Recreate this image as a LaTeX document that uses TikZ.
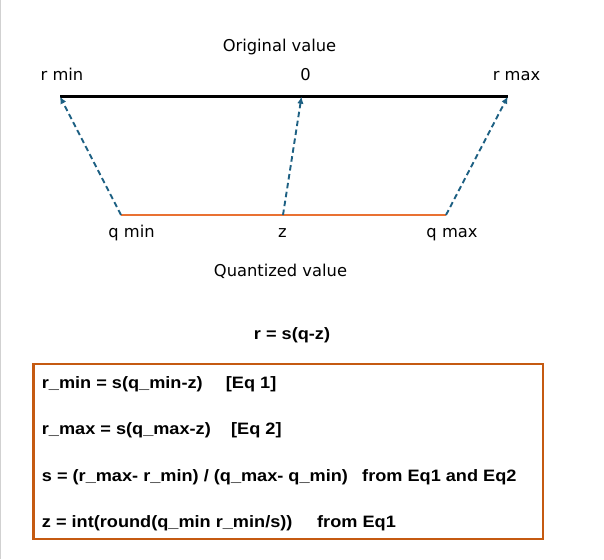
\documentclass[tikz,border=0pt]{standalone}
\usepackage{fontspec}
\setmainfont{DejaVu Sans}
\newfontfamily\eqfont{Liberation Sans}[FakeStretch=1.1]
\usetikzlibrary{arrows.meta}
\definecolor{mapblue}{HTML}{1D6083}
\definecolor{quantorange}{HTML}{E97132}
\definecolor{boxrust}{HTML}{C55A11}

\begin{document}
\begin{tikzpicture}[
  x=1pt,
  y=-1pt,
  line cap=butt,
  realline/.style={draw=black,line width=2.4pt},
  quantline/.style={draw=quantorange,line width=2.2pt},
  mapping/.style={draw=mapblue,line width=1.9pt,dash pattern=on 5.5pt off 3.5pt,
    -{Latex[length=7pt,width=6.5pt]}},
  eqbox/.style={draw=boxrust,line width=2.7pt},
  axislabel/.style={font=\fontsize{16.3}{19}\selectfont,inner sep=0pt,anchor=base},
  eqtext/.style={font=\eqfont\bfseries\fontsize{16.5}{19}\selectfont,inner sep=0pt,anchor=base west},
  pageedge/.style={draw=black!18,line width=1pt}
]
  \useasboundingbox (0,0) rectangle (604,559);
  \draw[pageedge] (0.8,0) -- (0.8,559);

  % End points of the two ranges.
  \coordinate (rmin) at (60,96.7);
  \coordinate (zero) at (301.5,96.7);
  \coordinate (rmax) at (507.7,96.7);
  \coordinate (qmin) at (121,215);
  \coordinate (zq) at (283,215);
  \coordinate (qmax) at (446,215);

  % Range labels.
  \node[axislabel] (orig) at (279.5,51.7) {Original value};
  \node[axislabel] (lrmin) at (62,81) {r min};
  \node[axislabel] (lzero) at (305.5,81) {0};
  \node[axislabel] (lrmax) at (516.5,81) {r max};
  \node[axislabel] (lqmin) at (131.5,237.7) {q min};
  \node[axislabel] (lz) at (282.4,237.7) {z};
  \node[axislabel] (lqmax) at (452,237.7) {q max};
  \node[axislabel] (quant) at (280.5,276) {Quantized value};

  % The two number lines.
  \draw[realline] (rmin) -- (rmax);
  \draw[quantline] (qmin) -- (qmax);

  % Quantized points map back to real values.
  \draw[mapping] (qmin) -- (rmin);
  \draw[mapping] (zq) -- (zero);
  \draw[mapping] (qmax) -- (rmax);

  % Affine relation and its derivation.
  \node[eqtext,anchor=base] (rel) at (292,339) {r = s(q-z)};

  \coordinate (boxnw) at (33.5,364);
  \coordinate (boxse) at (543,539);
  \draw[eqbox] (boxnw) rectangle (boxse);

  \node[eqtext] (eqa) at (41.7,388) {r\_min = s(q\_min-z)};
  \node[eqtext] (eqanote) at (225.7,388) {[Eq 1]};
  \node[eqtext] (eqb) at (41.7,434.5) {r\_max = s(q\_max-z)};
  \node[eqtext] (eqbnote) at (231,434.5) {[Eq 2]};
  \node[eqtext] (eqc) at (41.7,481) {s = (r\_max- r\_min) / (q\_max- q\_min)};
  \node[eqtext] (eqcnote) at (362,481) {from Eq1 and Eq2};
  \node[eqtext] (eqd) at (41.7,527.5) {z = int(round(q\_min r\_min/s))};
  \node[eqtext] (eqdnote) at (317,527.5) {from Eq1};
\end{tikzpicture}
\end{document}
